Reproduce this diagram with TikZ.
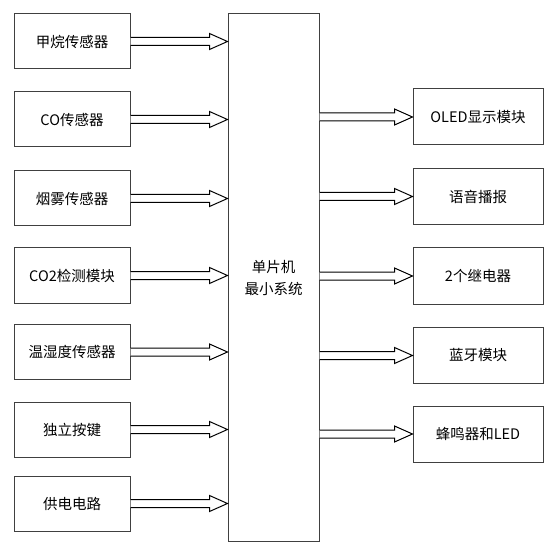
\documentclass[tikz,border=0pt]{standalone}
\usepackage{fontspec}
\setmainfont{Noto Sans CJK SC}
\usetikzlibrary{calc}
\definecolor{edge}{HTML}{404040}
\tikzset{
  blk/.style={draw=edge, line width=1pt, fill=white, minimum width=116pt, minimum height=55pt, inner sep=0pt, font=\fontsize{14.5}{17}\selectfont},
  rblk/.style={blk, minimum width=130pt, minimum height=56pt},
  hollow/.style={draw=black, line width=1pt, fill=white, line join=miter},
}
% hollow arrow from point #1 (start, on box edge) to x of #2
\newcommand{\harrow}[2]{%
  \path let \p1=#1, \p2=#2 in
    [hollow]
    (\x1,\y1-4pt) -- (\x2-18pt,\y1-4pt) -- (\x2-18pt,\y1-8pt) -- (\x2,\y1) --
    (\x2-18pt,\y1+8pt) -- (\x2-18pt,\y1+4pt) -- (\x1,\y1+4pt);}
\begin{document}
\begin{tikzpicture}[x=1pt,y=-1pt]
\useasboundingbox (0,0) rectangle (559,553);
% central box
\node[draw=edge, line width=1pt, minimum width=91pt, minimum height=527pt, inner sep=0pt,
      align=center, font=\fontsize{14.5}{22}\selectfont] (mcu) at (273.5,277.5) {单片机\\最小系统};
% left boxes
\node[blk] (l1) at (72,41.5) {甲烷传感器};
\node[blk] (l2) at (72,119.5) {CO传感器};
\node[blk] (l3) at (72,198.5) {烟雾传感器};
\node[blk] (l4) at (72,275.5) {CO2检测模块};
\node[blk] (l5) at (72,352) {温湿度传感器};
\node[blk] (l6) at (72,429.5) {独立按键};
\node[blk] (l7) at (72,503.5) {供电电路};
% right boxes
\node[rblk] (r1) at (478,117) {OLED显示模块};
\node[rblk] (r2) at (478,196.5) {语音播报};
\node[rblk] (r3) at (478,276) {2个继电器};
\node[rblk] (r4) at (478,355.5) {蓝牙模块};
\node[rblk] (r5) at (478,434) {蜂鸣器和LED};
% arrows into MCU
\foreach \nm in {l1,l2,l3,l4,l5,l6,l7}{
  \harrow{(\nm.east)}{(mcu.west)}
}
% arrows out of MCU
\foreach \nm in {r1,r2,r3,r4,r5}{
  \harrow{(mcu.east |- \nm.west)}{(\nm.west)}
}
\end{tikzpicture}
\end{document}
